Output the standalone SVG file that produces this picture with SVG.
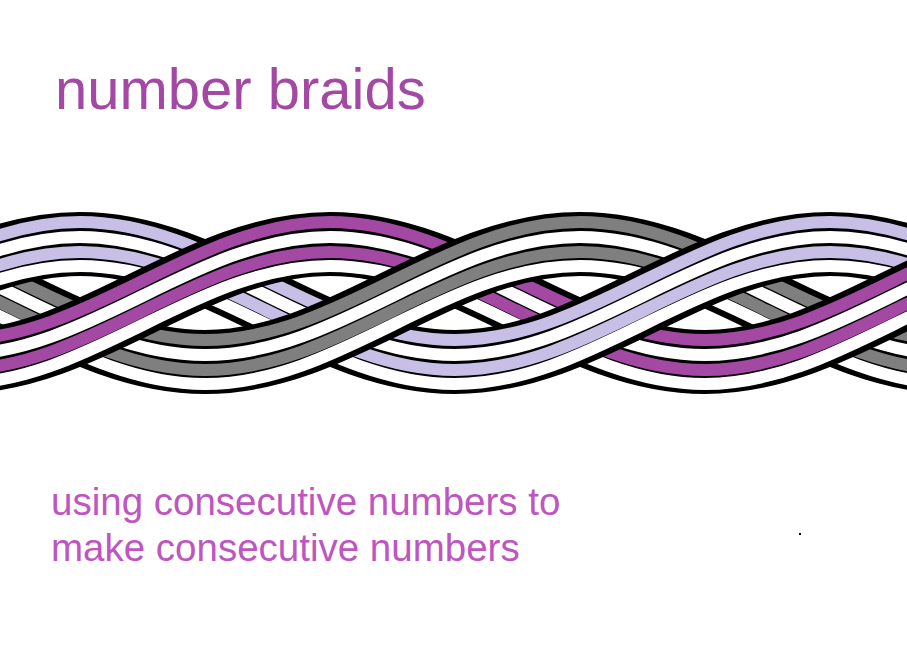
<svg xmlns="http://www.w3.org/2000/svg" width="907" height="665" viewBox="0 0 907 665">
<style>
.o{fill:none;stroke:#000;stroke-width:64}
.s{fill:none;stroke-width:12}
.w{fill:none;stroke:#fff;stroke-width:12}
.L{stroke:#c8bfe7}.P{stroke:#a349a4}.G{stroke:#7f7f7f}
text{font-family:"Liberation Sans",Arial,sans-serif}
</style>
<defs>
<path id="d" d="M0 244 c135 0 240 118 375 118"/>
<path id="a" d="M0 362 c135 0 240 -118 375 -118"/>
</defs>
<rect width="907" height="665" fill="#fff"/>
<text x="55" y="109" font-size="58" fill="#a349a4">number braids</text>
<g id="braid">
<g id="dL1" transform="translate(80,0)"><use href="#d" class="o"/><use href="#d" class="s L" y="-22"/><use href="#d" class="w" y="-7"/><use href="#d" class="s L" y="8"/><use href="#d" class="w" y="22"/></g>
<g id="dL2" transform="translate(830,0)"><use href="#d" class="o"/><use href="#d" class="s L" y="-22"/><use href="#d" class="w" y="-7"/><use href="#d" class="s L" y="8"/><use href="#d" class="w" y="22"/></g>
<g id="dP1" transform="translate(-420,0)"><use href="#d" class="o"/><use href="#d" class="s P" y="-22"/><use href="#d" class="w" y="-7"/><use href="#d" class="s P" y="8"/><use href="#d" class="w" y="22"/></g>
<g id="dP2" transform="translate(330,0)"><use href="#d" class="o"/><use href="#d" class="s P" y="-22"/><use href="#d" class="w" y="-7"/><use href="#d" class="s P" y="8"/><use href="#d" class="w" y="22"/></g>
<g id="dG1" transform="translate(-170,0)"><use href="#d" class="o"/><use href="#d" class="s G" y="-22"/><use href="#d" class="w" y="-7"/><use href="#d" class="s G" y="8"/><use href="#d" class="w" y="22"/></g>
<g id="dG2" transform="translate(580,0)"><use href="#d" class="o"/><use href="#d" class="s G" y="-22"/><use href="#d" class="w" y="-7"/><use href="#d" class="s G" y="8"/><use href="#d" class="w" y="22"/></g>
<g id="aL1" transform="translate(-295,0)"><use href="#a" class="o"/><use href="#a" class="s L" y="-22"/><use href="#a" class="w" y="-7"/><use href="#a" class="s L" y="8"/><use href="#a" class="w" y="22"/></g>
<g id="aL2" transform="translate(455,0)"><use href="#a" class="o"/><use href="#a" class="s L" y="-22"/><use href="#a" class="w" y="-7"/><use href="#a" class="s L" y="8"/><use href="#a" class="w" y="22"/></g>
<g id="aP1" transform="translate(-45,0)"><use href="#a" class="o"/><use href="#a" class="s P" y="-22"/><use href="#a" class="w" y="-7"/><use href="#a" class="s P" y="8"/><use href="#a" class="w" y="22"/></g>
<g id="aP2" transform="translate(705,0)"><use href="#a" class="o"/><use href="#a" class="s P" y="-22"/><use href="#a" class="w" y="-7"/><use href="#a" class="s P" y="8"/><use href="#a" class="w" y="22"/></g>
<g id="aG1" transform="translate(205,0)"><use href="#a" class="o"/><use href="#a" class="s G" y="-22"/><use href="#a" class="w" y="-7"/><use href="#a" class="s G" y="8"/><use href="#a" class="w" y="22"/></g>
<g id="aG2" transform="translate(-545,0)"><use href="#a" class="o"/><use href="#a" class="s G" y="-22"/><use href="#a" class="w" y="-7"/><use href="#a" class="s G" y="8"/><use href="#a" class="w" y="22"/></g>
<g id="aG3" transform="translate(955,0)"><use href="#a" class="o"/><use href="#a" class="s G" y="-22"/><use href="#a" class="w" y="-7"/><use href="#a" class="s G" y="8"/><use href="#a" class="w" y="22"/></g>
</g>
<text x="51" y="515" font-size="38.5" fill="#bf55c0">using consecutive numbers to</text>
<text x="51" y="561" font-size="38.5" fill="#bf55c0">make consecutive numbers</text>
<rect x="799" y="533" width="2" height="2" fill="#000"/>
</svg>
